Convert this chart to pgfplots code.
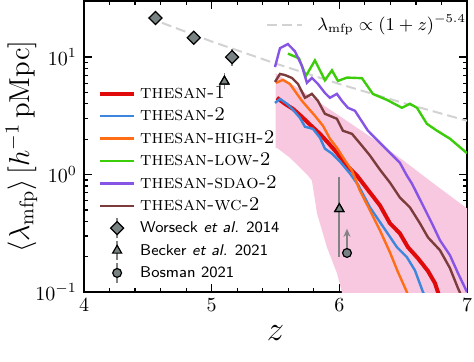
\documentclass[border=0pt]{standalone}
\usepackage{pgfplots}
\pgfplotsset{compat=1.18}
\usetikzlibrary{arrows.meta}
\definecolor{cred}{RGB}{225,10,10}
\definecolor{cblue}{RGB}{60,135,220}
\definecolor{corange}{RGB}{255,110,20}
\definecolor{cgreen}{RGB}{60,205,10}
\definecolor{cpurple}{RGB}{135,85,230}
\definecolor{cbrown}{RGB}{125,60,60}
\definecolor{cpink}{RGB}{248,200,225}
\definecolor{cdash}{RGB}{210,210,210}
\definecolor{cmark}{RGB}{120,130,130}
\definecolor{cerr}{RGB}{130,130,130}
\newcommand{\sct}[1]{{\fontsize{9.7}{10}\selectfont\textsc{#1}}}
\pgfplotsset{
  linelegend/.style={legend image code/.code={\draw[##1] (0cm,0cm) -- (0.6cm,0cm);}},
  marklegend/.style={legend image code/.code={\draw[cerr,line width=0.8pt] (0.3cm,-0.17cm) -- (0.3cm,0.17cm);
     \draw[mark repeat=2,mark phase=2,##1] plot coordinates {(0cm,0cm) (0.3cm,0cm) (0.6cm,0cm)};}},
}
\begin{document}
\begin{tikzpicture}
\begin{axis}[
  scale only axis, width=191.5pt, height=145.5pt,
  xmin=4, xmax=7, ymode=log, ymin=0.1, ymax=30,
  xtick={4,5,6,7}, minor x tick num=4,
  tick align=inside, tick pos=both,
  major tick length=4pt, minor tick length=2pt,
  every tick/.style={black, line width=0.6pt},
  axis line style={line width=0.8pt},
  ticklabel style={font=\fontsize{10}{12}\selectfont},
  xlabel={$z$}, xlabel style={font=\fontsize{17}{20}\selectfont},
  ylabel={$\langle\lambda_{\rm mfp}\rangle\,[h^{-1}\,{\rm pMpc}]$},
  ylabel style={font=\fontsize{14.7}{18}\selectfont, at={(axis description cs:-0.163,0.5)}, anchor=center},
  legend style={draw=none, fill=none, at={(0.02,0.735)}, anchor=north west,
     font=\fontsize{7.8}{9}\selectfont, row sep=0pt,
     nodes={inner ysep=1.5pt, text height=6.5pt, text depth=1.7pt}},
  legend cell align=left,
]
% pink band
\addplot[fill=cpink, draw=none, forget plot] coordinates {
 (5.5,7.3) (5.75,4.8) (6.0,3.16) (6.25,2.07) (6.5,1.32) (6.75,0.82) (7.0,0.515)
 (7.0,0.05) (6.04,0.05)
 (6.02,0.1) (5.981,0.145) (5.903,0.24) (5.825,0.467) (5.785,0.89) (5.754,0.98)
 (5.69,1.15) (5.613,1.39) (5.51,1.69) (5.5,1.69)} -- cycle;
% power-law dashed line
\addplot[cdash, line width=1pt, dash pattern=on 5pt off 2.5pt, forget plot] coordinates {
 (4.5,21.7) (5.0,13.57) (5.5,8.81) (6.0,5.90) (6.5,4.07) (7.0,2.87)};
% THESAN-1
\addplot[cred, line width=2pt, linelegend] coordinates {
 (5.511,4.50) (5.574,4.00) (5.637,3.62) (5.707,3.10) (5.77,2.66) (5.848,2.22)
 (5.911,1.87) (5.981,1.53) (6.06,1.19) (6.138,0.98) (6.216,0.76) (6.318,0.546)
 (6.396,0.385) (6.474,0.316) (6.537,0.241) (6.615,0.194) (6.694,0.151)
 (6.749,0.119) (6.772,0.1) (6.78,0.095)};
\addlegendentry{\sct{thesan-1}}
% THESAN-2
\addplot[cblue, line width=1.2pt, linelegend] coordinates {
 (5.496,4.07) (5.535,4.40) (5.590,4.00) (5.637,3.56) (5.691,3.04) (5.731,2.55)
 (5.793,2.45) (5.848,2.06) (5.887,1.66) (5.942,1.51) (6.005,1.29) (6.083,1.02)
 (6.146,0.82) (6.240,0.525) (6.341,0.362) (6.451,0.241) (6.529,0.198)
 (6.592,0.153) (6.655,0.1) (6.665,0.095)};
\addlegendentry{\sct{thesan-2}}
% HIGH-2
\addplot[corange, line width=1.2pt, linelegend] coordinates {
 (5.503,6.03) (5.558,6.39) (5.613,5.90) (5.668,4.86) (5.707,4.24) (5.754,3.70)
 (5.809,3.16) (5.872,2.60) (5.926,2.02) (5.981,1.69) (6.044,1.32) (6.099,1.08)
 (6.161,0.73) (6.24,0.495) (6.318,0.335) (6.396,0.218) (6.459,0.148)
 (6.529,0.1) (6.535,0.095)};
\addlegendentry{\sct{thesan-high-2}}
% LOW-2
\addplot[cgreen, line width=1.2pt, linelegend] coordinates {
 (5.597,10.7) (5.684,9.75) (5.738,6.90) (5.809,9.37) (5.887,6.35) (5.942,7.71)
 (5.989,6.26) (6.06,6.69) (6.177,6.61) (6.263,4.85) (6.373,4.32) (6.49,3.70)
 (6.553,4.00) (6.608,3.70) (6.686,2.70) (6.765,2.36) (6.866,2.02) (7.0,1.52)};
\addlegendentry{\sct{thesan-low-2}}
% SDAO-2
\addplot[cpurple, line width=1.2pt, linelegend] coordinates {
 (5.496,8.22) (5.535,11.9) (5.597,12.9) (5.652,11.2) (5.707,8.39) (5.746,6.03)
 (5.785,6.64) (5.832,5.91) (5.887,4.95) (5.926,4.50) (5.981,4.86) (6.02,4.24)
 (6.067,3.70) (6.122,3.49) (6.224,2.36) (6.302,1.94) (6.396,1.53) (6.474,1.26)
 (6.529,0.98) (6.568,0.84) (6.647,0.568) (6.725,0.385) (6.788,0.276)
 (6.866,0.206) (6.929,0.145) (7.0,0.1)};
\addlegendentry{\sct{thesan-sdao-2}}
% WC-2
\addplot[cbrown, line width=1.2pt, linelegend] coordinates {
 (5.496,6.14) (5.535,7.18) (5.574,7.03) (5.629,6.64) (5.676,5.90) (5.731,4.50)
 (5.785,4.86) (5.832,4.24) (5.887,3.29) (5.926,3.16) (5.981,2.98) (6.028,2.36)
 (6.099,2.22) (6.177,1.76) (6.24,1.45) (6.318,1.10) (6.396,0.855) (6.474,0.638)
 (6.553,0.525) (6.631,0.385) (6.694,0.292) (6.788,0.227) (6.866,0.160)
 (6.929,0.108) (6.95,0.096)};
\addlegendentry{\sct{thesan-wc-2}}
% Worseck 2014
\addplot[only marks, mark=square*, mark size=2.3pt, mark options={rotate=45, fill=cmark, draw=black, line width=0.6pt},
  marklegend,
  error bars/.cd, y dir=both, y explicit, error mark=none,
  error bar style={cerr, line width=0.8pt}] coordinates {
 (4.56,21.5) +- (0,2.3) (4.86,14.6) +- (0,1.8) (5.16,10.0) +- (0,1.6)};
\addlegendentry{\sffamily Worseck \textit{et al.} 2014}
% Becker 2021
\addplot[only marks, mark=triangle*, mark size=2.6pt, mark options={fill=cmark, draw=black, line width=0.6pt},
  marklegend,
  error bars/.cd, y dir=both, y explicit, error mark=none,
  error bar style={cerr, line width=0.9pt}] coordinates {
 (5.1,6.2) +- (0,0) (6.0,0.51) +- (0,0)};
\addlegendentry{\sffamily Becker \textit{et al.} 2021}
\addplot[cerr, line width=0.9pt, forget plot] coordinates {(5.1,5.3) (5.1,7.3)};
\addplot[cerr, line width=0.9pt, forget plot] coordinates {(6.0,0.20) (6.0,0.95)};
\addplot[only marks, mark=triangle*, mark size=2.6pt, mark options={fill=cmark, draw=black, line width=0.6pt}, forget plot] coordinates {
 (5.1,6.2) (6.0,0.51)};
% Bosman 2021
\addplot[cerr, line width=0.9pt, -{Stealth[length=4pt,width=3.5pt]}, forget plot] coordinates {(6.06,0.215) (6.06,0.345)};
\addplot[only marks, mark=*, mark size=2.2pt, mark options={fill=cmark, draw=black, line width=0.6pt},
  marklegend] coordinates {(6.06,0.215)};
\addlegendentry{\sffamily Bosman 2021}
% dashed-line key
\draw[cdash, line width=1pt, dash pattern=on 5pt off 2.5pt] (axis description cs:0.478,0.9175) -- (axis description cs:0.569,0.9175);
\node[anchor=west, inner sep=0pt, font=\fontsize{8.7}{11}\selectfont] at (axis description cs:0.608,0.9175) {$\lambda_{\rm mfp}\propto(1+z)^{-5.4}$};
\end{axis}
\pgfresetboundingbox
\path ([shift={(-42pt,-34.5pt)}]current axis.south west) rectangle ([shift={(3.5pt,0.5pt)}]current axis.north east);
\end{tikzpicture}
\end{document}
